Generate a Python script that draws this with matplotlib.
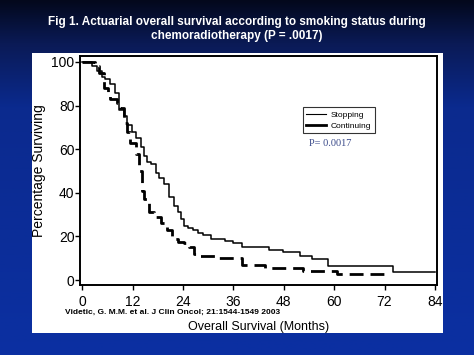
import numpy as np
import matplotlib.pyplot as plt
from matplotlib.lines import Line2D
from matplotlib.colors import LinearSegmentedColormap

plt.rcParams['font.family'] = ['Liberation Sans', 'DejaVu Sans']

# Kaplan-Meier steps (months, % surviving)
stop_t = [0, 2.3, 3.5, 4.7, 5.5, 6.7, 7.9, 8.7, 9.9, 10.7, 11.9, 12.7, 13.9, 14.7,
          15.5, 16.3, 17.5, 18.3, 19.5, 20.7, 21.9, 22.7, 23.5, 24.3, 25.1, 26.3,
          27.5, 28.7, 30.7, 33.9, 35.9, 38, 44.4, 47.9, 51.9, 54.7, 58.6, 74.1,
          76.5, 84]
stop_s = [100, 98, 96, 93, 92, 90, 86, 78, 75, 71, 68, 65, 61, 57, 54, 53, 49, 47,
          44, 38, 34, 31, 28, 25, 24, 23, 21.5, 20.5, 19, 18, 17, 15.3, 14, 13, 11,
          9.5, 6.4, 3.8, 3.8, 3.8]

cont_t = [0, 3.0, 4.0, 5.2, 6.2, 6.7, 8.3, 9.0, 9.9, 10.7, 11.5, 12.7, 13.5, 14.3,
          14.8, 15.9, 17.1, 18.7, 20.3, 21.5, 22.7, 24.3, 25.5, 26.7, 27.5, 32.3,
          38, 43.6, 52.7, 60.6, 72.9]
cont_s = [100, 98, 95, 88, 86, 83, 81, 79, 72, 68, 63, 58, 50, 41, 37, 31, 29, 26,
          23, 19, 17.5, 17, 15, 12, 11, 10, 7, 5.4, 4.3, 3, 3]

x_ticks = [0, 12, 24, 36, 48, 60, 72, 84]
y_ticks = [0, 20, 40, 60, 80, 100]

fig = plt.figure(figsize=(4.74, 3.55), dpi=100)

# slide background gradient
bg = fig.add_axes([0, 0, 1, 1])
grad = np.linspace(0, 1, 256).reshape(-1, 1)
cmap = LinearSegmentedColormap.from_list('slide', [(0, '#03081c'), (0.12, '#0a1a55'),
                                                   (0.3, '#0b2a8e'), (1, '#0b30a2')])
bg.imshow(grad, aspect='auto', cmap=cmap, extent=[0, 1, 0, 1], origin='upper')
bg.set_axis_off()

# white panel holding the figure
panel = fig.add_axes([0.0675, 0.062, 0.867, 0.789])
panel.set_facecolor('white')
panel.set_xticks([])
panel.set_yticks([])
for s in panel.spines.values():
    s.set_visible(False)

fig.text(0.5, 0.918, 'Fig 1. Actuarial overall survival according to smoking status during\n'
         'chemoradiotherapy (P = .0017)', color='white', fontsize=8.5, fontweight='bold',
         ha='center', va='center', linespacing=1.15)

ax = fig.add_axes([0.169, 0.197, 0.753, 0.645])
ax.step(stop_t, stop_s, where='post', color='black', lw=1.1, label='Stopping')
ax.step(cont_t, cont_s, where='post', color='black', lw=2, linestyle=(0, (5, 2.5)),
        label='Continuing')
ax.set_xlim(-0.5, 84.5)
ax.set_ylim(-2.3, 102.7)
ax.set_xticks(x_ticks)
ax.set_yticks(y_ticks)
ax.tick_params(labelsize=10, length=3.5, width=1, colors='black')
ax.tick_params(axis='y', pad=0.5)
ax.tick_params(axis='x', pad=4)
for s in ax.spines.values():
    s.set_linewidth(1.4)
ax.set_ylabel('Percentage Surviving', fontsize=10, labelpad=4)

handles = [Line2D([], [], color='black', lw=0.8), Line2D([], [], color='black', lw=2)]
leg = ax.legend(handles, ['Stopping', 'Continuing'], loc='upper left',
                bbox_to_anchor=(0.612, 0.795), fontsize=6, frameon=True,
                fancybox=False, edgecolor='black', handlelength=2.3,
                borderpad=0.45, labelspacing=0.35, handletextpad=0.6)
leg.get_frame().set_linewidth(0.8)
ax.text(0.64, 0.62, 'P= 0.0017', transform=ax.transAxes, fontsize=7.5,
        family='Liberation Serif', color='#3a4a8a', va='center')

fig.text(0.137, 0.121, 'Videtic, G. M.M. et al. J Clin Oncol; 21:1544-1549 2003',
         fontsize=6, fontweight='bold', color='black', va='center')
fig.text(0.545, 0.079, 'Overall Survival (Months)', fontsize=9, color='black',
         ha='center', va='center')

fig.savefig('out.png', dpi=100)
